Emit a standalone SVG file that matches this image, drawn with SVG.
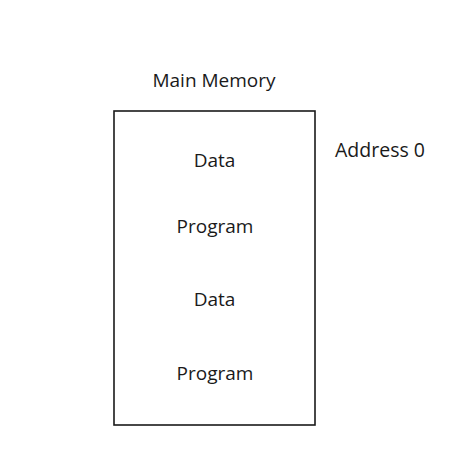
<svg xmlns="http://www.w3.org/2000/svg" width="474" height="474" viewBox="0 0 474 474">
<style>
text{font-family:"Open Sans","Noto Sans","Liberation Sans",sans-serif;font-size:19px;fill:#1a1a1a}
.c{text-anchor:middle}
</style>
<rect width="474" height="474" fill="#fff"/>
<g id="title"><text class="c" x="214" y="86.5">Main Memory</text></g>
<g id="memory"><rect x="114" y="111" width="201" height="314" fill="#fff" stroke="#1a1a1a" stroke-width="1.6"/></g>
<g id="data1"><text class="c" x="214.5" y="167">Data</text></g>
<g id="program1"><text class="c" x="215" y="233">Program</text></g>
<g id="data2"><text class="c" x="214.5" y="306">Data</text></g>
<g id="program2"><text class="c" x="215" y="380">Program</text></g>
<g id="address"><text class="c" x="380" y="156.5" style="font-size:19.5px">Address 0</text></g>
<g id="connectors"></g>
</svg>
